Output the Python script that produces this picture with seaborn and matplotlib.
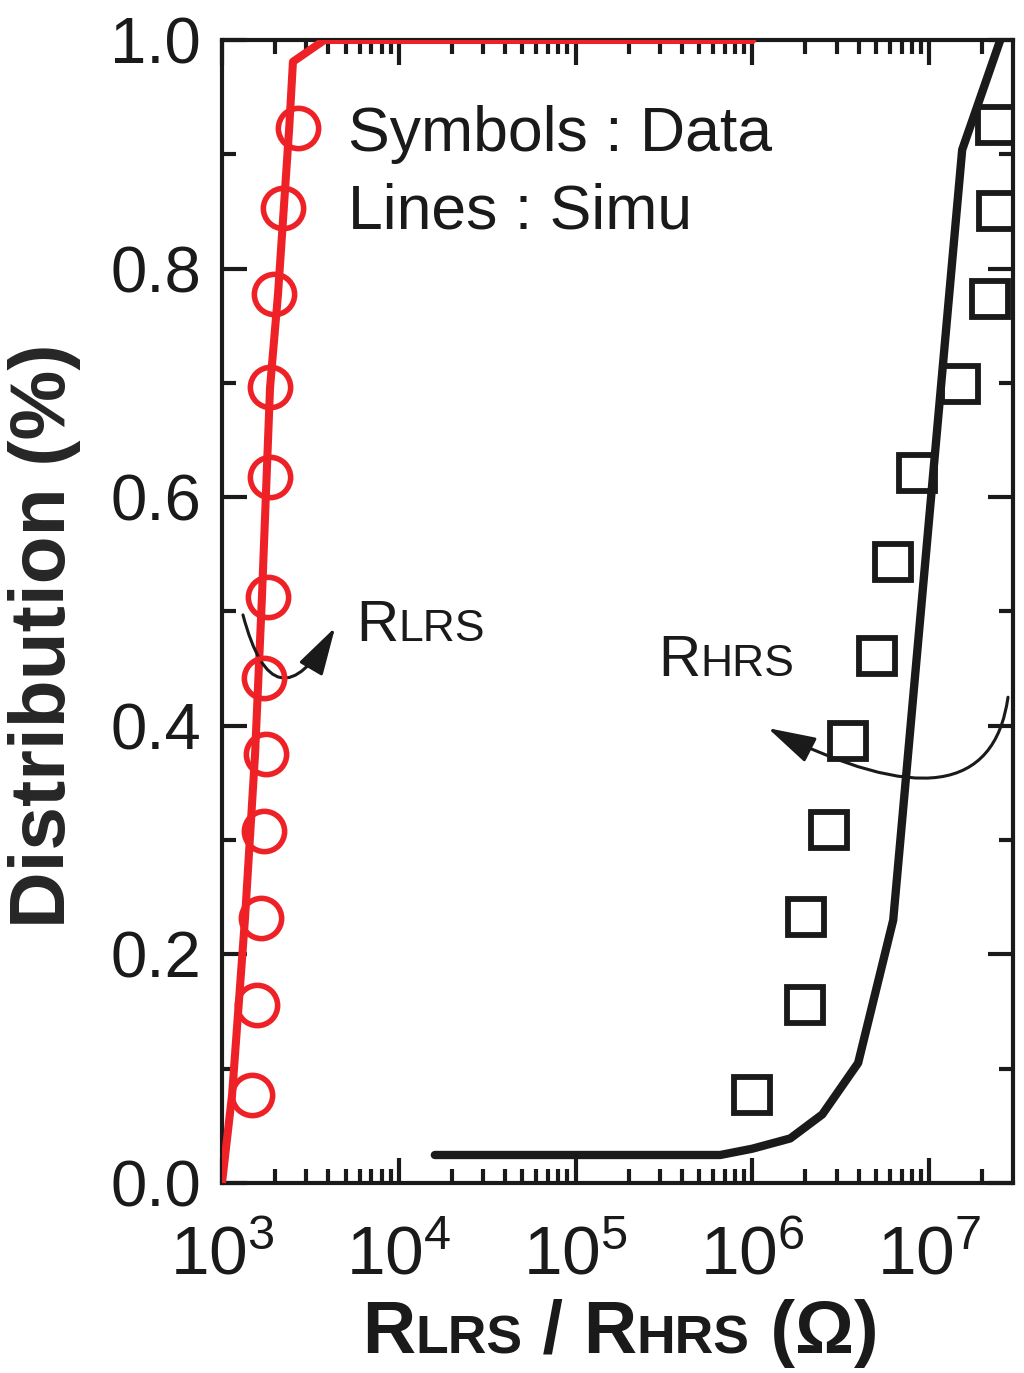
import numpy as np
import pandas as pd
import matplotlib
matplotlib.use("Agg")
import matplotlib.pyplot as plt
import seaborn as sns
from matplotlib.ticker import LogLocator, FixedLocator, MultipleLocator, FormatStrFormatter
from matplotlib.offsetbox import TextArea, HPacker, AnnotationBbox

# ---------------- data ----------------
lrs_data_r = [1479, 1578, 1663, 1729, 1775, 1729, 1820, 1869, 1869, 1967, 2213, 2690]
lrs_data_p = [0.077, 0.156, 0.232, 0.308, 0.375, 0.442, 0.513, 0.618, 0.696, 0.778, 0.853, 0.923]

hrs_data_r = [1.0e6, 2.0e6, 2.02e6, 2.72e6, 3.49e6, 5.09e6, 6.27e6, 8.57e6, 1.50e7, 2.22e7, 2.43e7, 2.40e7]
hrs_data_p = [0.077, 0.156, 0.233, 0.309, 0.387, 0.461, 0.543, 0.621, 0.699, 0.773, 0.850, 0.926]

lrs_sim_r = [1000, 1140, 1350, 1538, 1683, 1870, 2075, 2400, 2520, 3800, 1.0e6]
lrs_sim_p = [0.0, 0.077, 0.232, 0.375, 0.513, 0.696, 0.778, 0.923, 0.981, 1.0, 1.0]

hrs_sim_r = [1.6e4, 6.58e5, 1.0e6, 1.64e6, 2.49e6, 3.97e6, 6.27e6, 1.54e7, 2.53e7]
hrs_sim_p = [0.0245, 0.0245, 0.030, 0.039, 0.060, 0.105, 0.230, 0.904, 1.0]

x_ticks = [1e3, 1e4, 1e5, 1e6, 1e7]
y_ticks = [0.0, 0.2, 0.4, 0.6, 0.8, 1.0]

RED = "#EE2226"
BLACK = "#1a1a1a"

# ---------------- style ----------------
sns.set_theme(style="ticks")
plt.rcParams["font.family"] = ["Liberation Sans", "DejaVu Sans"]
plt.rcParams["mathtext.fontset"] = "custom"
plt.rcParams["mathtext.rm"] = "Liberation Sans"
plt.rcParams["mathtext.it"] = "Liberation Sans:italic"
plt.rcParams["mathtext.bf"] = "Liberation Sans:bold"

fig = plt.figure(figsize=(10.24, 13.73), dpi=100)
ax = fig.add_axes([222 / 1024, 1 - 1183 / 1373, (1013 - 222) / 1024, (1183 - 40) / 1373])

df_lrs_sim = pd.DataFrame({"R": lrs_sim_r, "P": lrs_sim_p})
df_hrs_sim = pd.DataFrame({"R": hrs_sim_r, "P": hrs_sim_p})
df_lrs = pd.DataFrame({"R": lrs_data_r, "P": lrs_data_p})
df_hrs = pd.DataFrame({"R": hrs_data_r, "P": hrs_data_p})

sns.lineplot(data=df_lrs_sim, x="R", y="P", ax=ax, sort=False, estimator=None,
             color=RED, linewidth=5.8, zorder=3)
sns.lineplot(data=df_hrs_sim, x="R", y="P", ax=ax, sort=False, estimator=None,
             color=BLACK, linewidth=6.0, zorder=3)
sns.lineplot(data=df_lrs, x="R", y="P", ax=ax, sort=False, estimator=None,
             linestyle="", marker="o", markersize=29, markerfacecolor="none",
             markeredgecolor=RED, markeredgewidth=4.0, zorder=4)
sns.lineplot(data=df_hrs, x="R", y="P", ax=ax, sort=False, estimator=None,
             linestyle="", marker="s", markersize=26, markerfacecolor="none",
             markeredgecolor=BLACK, markeredgewidth=4.2, zorder=4)

ax.set_xscale("log")
ax.set_xlim(1e3, 10 ** 7.475)
ax.set_ylim(0, 1.0)

ax.xaxis.set_major_locator(FixedLocator(x_ticks))
ax.xaxis.set_minor_locator(LogLocator(base=10, subs=np.arange(2, 10), numticks=20))
ax.yaxis.set_major_locator(FixedLocator(y_ticks))
ax.yaxis.set_minor_locator(MultipleLocator(0.1))
ax.yaxis.set_major_formatter(FormatStrFormatter("%.1f"))

for s in ax.spines.values():
    s.set_linewidth(3.0)
    s.set_color(BLACK)
ax.tick_params(which="both", direction="in", top=True, right=True, colors=BLACK)
ax.tick_params(which="major", length=18, width=3.0)
ax.tick_params(which="minor", length=10, width=3.0)
ax.tick_params(axis="y", which="major", labelsize=47, pad=15)
ax.tick_params(axis="x", which="major", labelsize=50, pad=30)

ax.set_xlabel("")
ax.set_ylabel("Distribution (%)", fontsize=56.5, fontweight="bold")
ax.yaxis.set_label_coords(-0.178, 0.479)

# text annotations
ax.text(0.159, 0.903, "Symbols : Data", transform=ax.transAxes, fontsize=45,
        va="baseline", ha="left", color=BLACK)
ax.text(0.159, 0.835, "Lines : Simu", transform=ax.transAxes, fontsize=45,
        va="baseline", ha="left", color=BLACK)


def packed_label(parts, weight):
    areas = [TextArea(t, textprops=dict(fontsize=fs, fontweight=weight, color=BLACK))
             for t, fs in parts]
    return HPacker(children=areas, align="baseline", pad=0, sep=0)


lab_lrs = packed_label([("R", 42), ("LRS", 32)], "normal")
ab1 = AnnotationBbox(lab_lrs, (0.170, 0.468), xycoords="axes fraction",
                     box_alignment=(0, 0.1), frameon=False)
ax.add_artist(ab1)
lab_hrs = packed_label([("R", 42), ("HRS", 32)], "normal")
ab2 = AnnotationBbox(lab_hrs, (0.552, 0.438), xycoords="axes fraction",
                     box_alignment=(0, 0.1), frameon=False)
ax.add_artist(ab2)

xlab = packed_label([("R", 53), ("LRS", 38.5), (" / ", 53), ("R", 53), ("HRS", 38.5), (" (Ω)", 53)], "bold")
ab3 = AnnotationBbox(xlab, (620 / 1024, 1 - 1368 / 1373), xycoords="figure fraction",
                     box_alignment=(0.5, 0), frameon=False, annotation_clip=False)
fig.add_artist(ab3)

# curved arrows
ax.annotate("", xy=(0.143, 0.486), xytext=(0.0265, 0.497), xycoords="axes fraction",
            arrowprops=dict(arrowstyle="-|>,head_length=1.35,head_width=0.38",
                            connectionstyle="arc3,rad=1.2", color=BLACK, lw=2.2,
                            mutation_scale=22, shrinkA=0, shrinkB=0))
ax.annotate("", xy=(0.690, 0.398), xytext=(0.9937, 0.425), xycoords="axes fraction",
            arrowprops=dict(arrowstyle="-|>,head_length=1.35,head_width=0.38",
                            connectionstyle="angle3,angleA=-98,angleB=-27", color=BLACK, lw=2.2,
                            mutation_scale=22, shrinkA=0, shrinkB=0))

fig.savefig("out.png", dpi=100)
